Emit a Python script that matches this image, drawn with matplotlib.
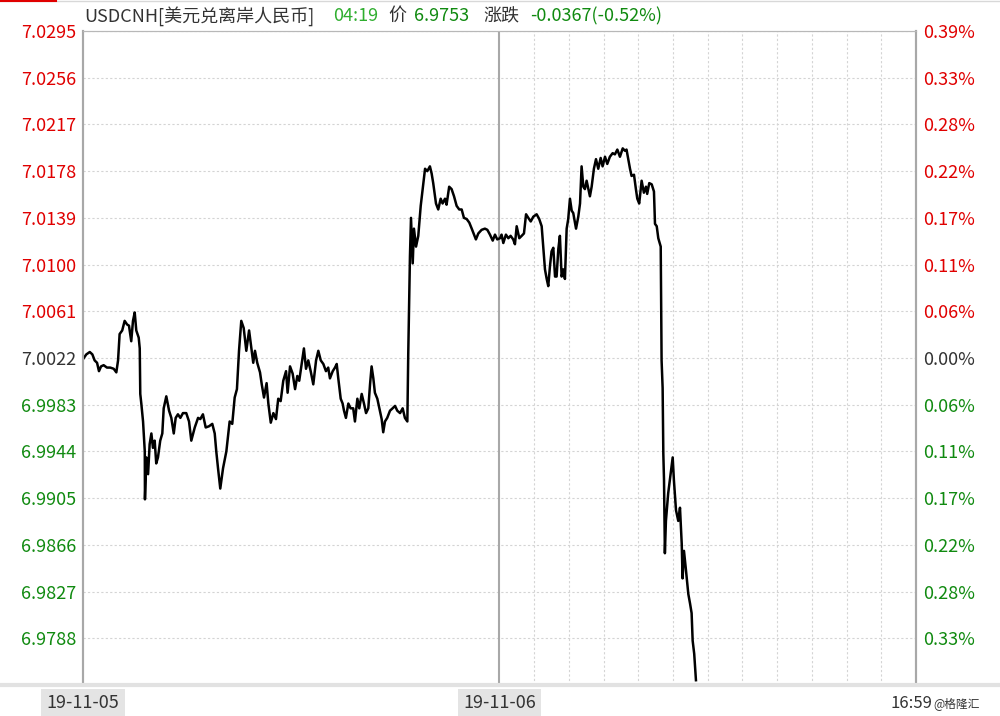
import matplotlib
matplotlib.use('Agg')
import matplotlib.pyplot as plt
from matplotlib.lines import Line2D

plt.rcParams['font.family'] = ['Noto Sans CJK SC', 'DejaVu Sans']

# hours since 19-11-05 00:00, USDCNH price
hours = [0.00, 0.19, 0.39, 0.54, 0.67, 0.81, 0.92, 1.04, 1.19, 1.38, 1.57, 1.77, 1.92, 2.02, 2.11, 2.26,
         2.40, 2.54, 2.65, 2.78, 2.88, 2.98, 3.07, 3.21, 3.27, 3.30, 3.36, 3.46, 3.56, 3.57, 3.65, 3.75,
         3.84, 3.94, 4.03, 4.13, 4.22, 4.32, 4.45, 4.57, 4.65, 4.80, 4.96, 5.09, 5.23, 5.34, 5.47, 5.61,
         5.76, 5.95, 6.11, 6.24, 6.44, 6.63, 6.76, 6.91, 7.07, 7.26, 7.45, 7.59, 7.68, 7.78, 7.91, 8.07,
         8.26, 8.45, 8.60, 8.74, 8.87, 8.99, 9.12, 9.26, 9.41, 9.57, 9.70, 9.81, 9.91, 10.04, 10.20, 10.30,
         10.43, 10.58, 10.68, 10.82, 10.97, 11.12, 11.25, 11.39, 11.54, 11.70, 11.79, 11.93, 12.08, 12.22,
         12.35, 12.46, 12.60, 12.73, 12.85, 12.98, 13.12, 13.27, 13.43, 13.56, 13.70, 13.85, 14.00, 14.13,
         14.23, 14.39, 14.52, 14.62, 14.71, 14.85, 14.96, 15.04, 15.15, 15.29, 15.42, 15.57, 15.67, 15.81,
         15.92, 16.06, 16.19, 16.31, 16.44, 16.54, 16.63, 16.73, 16.82, 16.96, 17.11, 17.21, 17.30, 17.40,
         17.53, 17.69, 17.84, 17.98, 18.11, 18.27, 18.42, 18.55, 18.69, 18.74, 18.84, 18.90, 19.00, 19.07,
         19.19, 19.32, 19.46, 19.57, 19.71, 19.84, 19.99, 20.09, 20.18, 20.34, 20.47, 20.61, 20.72, 20.86,
         20.95, 21.10, 21.24, 21.38, 21.53, 21.68, 21.82, 21.95, 22.11, 22.26, 22.40, 22.53, 22.64, 22.78,
         22.97, 23.16, 23.30, 23.45, 23.61, 23.74, 23.87, 24.03, 24.12, 24.22, 24.37, 24.51, 24.64, 24.79,
         24.89, 24.99, 25.14, 25.28, 25.41, 25.53, 25.66, 25.80, 25.95, 26.14, 26.29, 26.43, 26.52, 26.62,
         26.72, 26.81, 26.91, 27.00, 27.10, 27.20, 27.29, 27.39, 27.48, 27.58, 27.68, 27.77, 27.87, 27.96,
         28.06, 28.16, 28.25, 28.41, 28.54, 28.64, 28.73, 28.83, 28.92, 29.02, 29.12, 29.21, 29.31, 29.44,
         29.56, 29.69, 29.83, 29.94, 30.08, 30.21, 30.36, 30.52, 30.65, 30.79, 30.94, 31.10, 31.23, 31.32,
         31.42, 31.52, 31.61, 31.75, 31.86, 31.94, 32.05, 32.19, 32.32, 32.44, 32.51, 32.63, 32.77, 32.90,
         32.96, 33.06, 33.15, 33.29, 33.34, 33.40, 33.44, 33.48, 33.53, 33.59, 33.72, 33.86, 33.98, 34.05,
         34.17, 34.30, 34.40, 34.50, 34.55, 34.63, 34.73, 34.88, 34.98, 35.07, 35.13, 35.22, 35.32]
prices = [7.0021, 7.0025, 7.0027, 7.0025, 7.0020, 7.0018, 7.0011, 7.0015, 7.0016, 7.0014, 7.0014, 7.0013,
          7.0010, 7.0020, 7.0042, 7.0045, 7.0053, 7.0050, 7.0049, 7.0036, 7.0053, 7.0060, 7.0045, 7.0039,
          7.0030, 6.9992, 6.9984, 6.9969, 6.9944, 6.9904, 6.9939, 6.9925, 6.9950, 6.9959, 6.9947, 6.9953,
          6.9934, 6.9939, 6.9953, 6.9959, 6.9980, 6.9990, 6.9978, 6.9972, 6.9959, 6.9972, 6.9975, 6.9972,
          6.9976, 6.9976, 6.9969, 6.9953, 6.9964, 6.9972, 6.9971, 6.9975, 6.9964, 6.9965, 6.9967, 6.9959,
          6.9944, 6.9930, 6.9913, 6.9930, 6.9944, 6.9969, 6.9967, 6.9989, 6.9996, 7.0028, 7.0053, 7.0047,
          7.0028, 7.0045, 7.0030, 7.0018, 7.0028, 7.0018, 7.0010, 7.0000, 6.9989, 7.0001, 6.9984, 6.9968,
          6.9976, 6.9971, 6.9988, 6.9986, 7.0003, 7.0011, 6.9993, 7.0015, 7.0009, 6.9996, 7.0007, 7.0003,
          7.0017, 7.0030, 7.0013, 7.0020, 7.0011, 7.0000, 7.0020, 7.0028, 7.0020, 7.0017, 7.0011, 7.0014,
          7.0005, 7.0011, 7.0014, 7.0017, 7.0005, 6.9988, 6.9984, 6.9978, 6.9972, 6.9984, 6.9980, 6.9980,
          6.9969, 6.9988, 6.9980, 6.9992, 6.9984, 6.9976, 6.9980, 7.0000, 7.0015, 7.0005, 6.9993, 6.9988,
          6.9978, 6.9971, 6.9960, 6.9969, 6.9972, 6.9978, 6.9980, 6.9982, 6.9978, 6.9976, 6.9980, 6.9972,
          6.9969, 7.0024, 7.0107, 7.0139, 7.0101, 7.0130, 7.0115, 7.0124, 7.0149, 7.0163, 7.0180, 7.0178,
          7.0182, 7.0176, 7.0168, 7.0151, 7.0146, 7.0155, 7.0151, 7.0155, 7.0150, 7.0165, 7.0163, 7.0157,
          7.0149, 7.0146, 7.0146, 7.0139, 7.0138, 7.0135, 7.0130, 7.0125, 7.0121, 7.0126, 7.0129, 7.0130,
          7.0129, 7.0125, 7.0120, 7.0125, 7.0121, 7.0122, 7.0125, 7.0118, 7.0125, 7.0122, 7.0124, 7.0121,
          7.0117, 7.0132, 7.0122, 7.0124, 7.0126, 7.0142, 7.0139, 7.0136, 7.0140, 7.0142, 7.0138, 7.0132,
          7.0115, 7.0096, 7.0088, 7.0082, 7.0099, 7.0111, 7.0114, 7.0090, 7.0090, 7.0113, 7.0124, 7.0090,
          7.0096, 7.0088, 7.0130, 7.0138, 7.0155, 7.0145, 7.0143, 7.0130, 7.0140, 7.0151, 7.0182, 7.0165,
          7.0163, 7.0170, 7.0163, 7.0157, 7.0165, 7.0180, 7.0188, 7.0180, 7.0189, 7.0182, 7.0190, 7.0184,
          7.0190, 7.0193, 7.0192, 7.0196, 7.0190, 7.0197, 7.0195, 7.0196, 7.0188, 7.0180, 7.0174, 7.0175,
          7.0163, 7.0155, 7.0151, 7.0170, 7.0160, 7.0165, 7.0159, 7.0168, 7.0167, 7.0161, 7.0134, 7.0132,
          7.0122, 7.0115, 7.0020, 6.9997, 6.9942, 6.9920, 6.9859, 6.9886, 6.9909, 6.9925, 6.9939, 6.9920,
          6.9895, 6.9886, 6.9897, 6.9867, 6.9838, 6.9861, 6.9847, 6.9825, 6.9817, 6.9809, 6.9786, 6.9775,
          6.9753]

base = 7.0022
price_ticks = [7.0295, 7.0256, 7.0217, 7.0178, 7.0139, 7.0100, 7.0061, 7.0022,
               6.9983, 6.9944, 6.9905, 6.9866, 6.9827, 6.9788]
pct_labels = ['0.39%', '0.33%', '0.28%', '0.22%', '0.17%', '0.11%', '0.06%', '0.00%',
              '0.06%', '0.11%', '0.17%', '0.22%', '0.28%', '0.33%']
day_labels = ['19-11-05', '19-11-06']

RED = '#e00000'
GREEN = '#108a10'
GRAY_TXT = '#333333'

fig = plt.figure(figsize=(10, 7.16), dpi=100)
ax = fig.add_axes([0.083, 1 - 685 / 716, 0.833, 654 / 716])

ax.plot(hours, prices, color='black', lw=1.8, zorder=3)
ax.set_xlim(0, 48)
ax.set_ylim(6.9749, 7.0295)

# horizontal grid
for p in price_ticks:
    ax.axhline(p, color='#d4d4d4', lw=0.8, ls=(0, (2, 2)), zorder=1)
# vertical grid only in the second day
for h in range(26, 48, 2):
    ax.axvline(h, color='#d4d4d4', lw=0.8, ls=(0, (2, 2)), zorder=1)
ax.axvline(24, color='#a8a8a8', lw=1.5, zorder=2)

ax.set_xticks([])
ax.set_yticks(price_ticks)
ax.set_yticklabels(['%.4f' % p for p in price_ticks], fontsize=13)
ax.tick_params(axis='y', length=0, pad=5)
for lab, p in zip(ax.get_yticklabels(), price_ticks):
    lab.set_color(RED if p > base + 1e-6 else (GREEN if p < base - 1e-6 else GRAY_TXT))

ax2 = ax.twinx()
ax2.set_ylim(ax.get_ylim())
ax2.set_yticks(price_ticks)
ax2.set_yticklabels(pct_labels, fontsize=13)
ax2.tick_params(axis='y', length=0, pad=5)
for lab, p in zip(ax2.get_yticklabels(), price_ticks):
    lab.set_color(RED if p > base + 1e-6 else (GREEN if p < base - 1e-6 else GRAY_TXT))

for a in (ax, ax2):
    a.spines['bottom'].set_visible(False)
    a.spines['top'].set_color('#b8b8b8')
    a.spines['top'].set_linewidth(0.8)
    a.spines['left'].set_color('#a8a8a8')
    a.spines['left'].set_linewidth(1.5)
    a.spines['right'].set_color('#a8a8a8')
    a.spines['right'].set_linewidth(1.5)

# bottom band across the whole width
fig.add_artist(Line2D([0, 1], [1 - 685 / 716] * 2, color='#e2e2e2', lw=3, transform=fig.transFigure))
# thin strip at the very top
fig.add_artist(Line2D([0, 1], [1 - 0.5 / 716] * 2, color='#d8d8d8', lw=1, transform=fig.transFigure))
fig.add_artist(Line2D([0, 0.056], [1 - 0.5 / 716] * 2, color=RED, lw=1.5, transform=fig.transFigure))

# date labels
trans = ax.get_xaxis_transform()
for h, lab in zip([0, 24], day_labels):
    ax.text(h, -0.0275, lab, transform=trans, ha='center', va='center', fontsize=13,
            color=GRAY_TXT, clip_on=False,
            bbox=dict(boxstyle='square,pad=0.3', fc='#e4e4e4', ec='none'))

fig.text(0.891, 1 - 703 / 716, '16:59', ha='left', va='center', fontsize=12, color=GRAY_TXT)
fig.text(0.933, 1 - 704 / 716, '@格隆汇', ha='left', va='center', fontsize=8.5, color=GRAY_TXT)

# title line
ty = 1 - 16 / 716
fig.text(0.084, ty, 'USDCNH[美元兑离岸人民币]', ha='left', va='center', fontsize=13, color=GRAY_TXT)
fig.text(0.333, ty, '04:19', ha='left', va='center', fontsize=13, color='#2fae2f')
fig.text(0.388, ty, '价', ha='left', va='center', fontsize=13, color=GRAY_TXT)
fig.text(0.414, ty, '6.9753', ha='left', va='center', fontsize=13, color=GREEN)
fig.text(0.483, ty, '涨跌', ha='left', va='center', fontsize=13, color=GRAY_TXT)
fig.text(0.530, ty, '-0.0367(-0.52%)', ha='left', va='center', fontsize=13, color=GREEN)

fig.savefig('out.png', dpi=100)
